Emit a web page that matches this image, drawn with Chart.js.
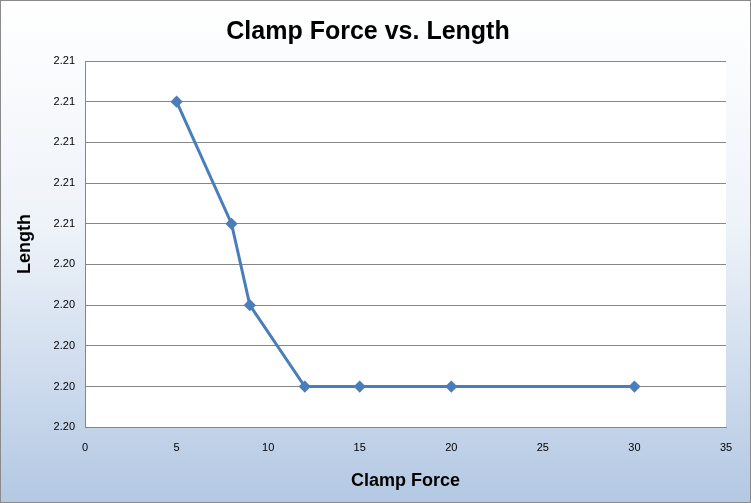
<!DOCTYPE html>
<html><head><meta charset="utf-8">
<script src="https://cdn.jsdelivr.net/npm/chart.js@4"></script>
<style>html,body{margin:0;padding:0;background:#fff}#wrap{width:751px;height:503px}</style>
</head><body><div id="wrap"><canvas id="c"></canvas></div>
<script>
const clampForce = [5, 8, 9, 12, 15, 20, 30];
const lengthVals = [2.208, 2.205, 2.203, 2.201, 2.201, 2.201, 2.201];
const LINE = '#4a7ebb';

const bg = {
  id:'bg',
  beforeDraw(ch){
    const {ctx,width,height} = ch;
    const g = ctx.createLinearGradient(0,0,0,height);
    g.addColorStop(0,'#ffffff'); g.addColorStop(0.45,'#eef3f9'); g.addColorStop(1,'#b3c8e3');
    ctx.save(); ctx.fillStyle=g; ctx.fillRect(0,0,width,height);
    ctx.strokeStyle='#8a8a8a'; ctx.lineWidth=1; ctx.strokeRect(0.5,0.5,width-1,height-1);
    const a = ch.chartArea;
    ctx.fillStyle='#fff'; ctx.fillRect(a.left,a.top,a.right-a.left,a.bottom-a.top);
    ctx.restore();
  }
};

new Chart(document.getElementById('c'), {
  type:'line',
  data:{datasets:[{
    data: clampForce.map((x,i)=>({x, y:lengthVals[i]})),
    borderColor:LINE, backgroundColor:LINE, borderWidth:3,
    pointStyle:'rectRot', pointRadius:4, tension:0
  }]},
  options:{
    responsive:true, maintainAspectRatio:false, animation:false,
    layout:{padding:{top:17,right:25,bottom:7,left:10}},
    plugins:{
      legend:{display:false}, tooltip:{enabled:false},
      title:{display:true, text:'Clamp Force vs. Length', color:'#000',
        font:{family:'Liberation Sans, Arial', size:25, weight:'bold'}, padding:{top:0,bottom:14}}
    },
    scales:{
      x:{type:'linear', min:0, max:35,
        ticks:{stepSize:5, color:'#000', font:{family:'Liberation Sans, Arial', size:11}, padding:6},
        grid:{display:false}, border:{color:'#868686'},
        title:{display:true, text:'Clamp Force', color:'#000',
          font:{family:'Liberation Sans, Arial', size:18, weight:'bold'}, padding:{top:10}}},
      y:{min:2.200, max:2.209,
        afterBuildTicks(ax){ ax.ticks = Array.from({length:10},(_,i)=>({value:2.2+i*0.001})); },
        ticks:{color:'#000', font:{family:'Liberation Sans, Arial', size:11}, padding:10,
          callback:v=>(Math.round(Math.round(v*1000)/10)/100).toFixed(2)},
        grid:{color:'#868686', drawTicks:false}, border:{color:'#868686'},
        title:{display:true, text:'Length', color:'#000',
          font:{family:'Liberation Sans, Arial', size:18, weight:'bold'}, padding:{bottom:8}}}
    }
  },
  plugins:[bg]
});
</script></body></html>
